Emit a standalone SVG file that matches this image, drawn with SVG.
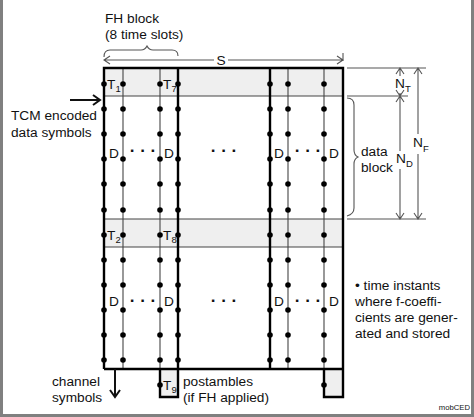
<svg xmlns="http://www.w3.org/2000/svg" xmlns:xlink="http://www.w3.org/1999/xlink" width="474" height="417" viewBox="0 0 474 417">
<style>
text{font-family:"Liberation Sans",Arial,sans-serif;fill:#111;font-size:13.7px}
.sub{font-size:9.5px}
.thick{stroke:#000;stroke-width:2.4;fill:none}
.thin{stroke:#444;stroke-width:1.1;fill:none}
.dim{stroke:#555;stroke-width:1.1;fill:none}
.arr{stroke:#111;stroke-width:2;fill:none}
.band{fill:#efefef}
.ell{font-weight:bold;font-size:17px}
</style>
<defs>
<circle id="d" r="2.8" fill="#000"/>
</defs>
<rect width="474" height="417" fill="#fff"/>
<path d="M1.5,0 V415.5 H472.5 V0" fill="none" stroke="#808080" stroke-width="3"/>

<g id="frame">
<rect class="band" x="104" y="68" width="239" height="28"/>
<rect class="band" x="104" y="219" width="239" height="28"/>
<rect class="band" x="160" y="369" width="18" height="28"/>
<rect class="band" x="324" y="369" width="19" height="28"/>
<line class="thin" x1="104" y1="96" x2="343" y2="96"/>
<line class="thin" x1="104" y1="219" x2="343" y2="219"/>
<line class="thin" x1="104" y1="247" x2="343" y2="247"/>
<line class="thin" x1="123" y1="68" x2="123" y2="369"/>
<line class="thin" x1="160" y1="68" x2="160" y2="369"/>
<line class="thin" x1="288" y1="68" x2="288" y2="369"/>
<line class="thin" x1="324" y1="68" x2="324" y2="369"/>
<line class="thick" x1="178" y1="68" x2="178" y2="369"/>
<line class="thick" x1="270" y1="68" x2="270" y2="369"/>
<path class="thick" d="M104,369 V68 H343 V397 H324 V369 M104,369 H343 M160,369 V397 H178 V369"/>
</g>

<g id="dots">
<use xlink:href="#d" x="104" y="84"/><use xlink:href="#d" x="123" y="84"/><use xlink:href="#d" x="160" y="84"/><use xlink:href="#d" x="178" y="84"/><use xlink:href="#d" x="270" y="84"/><use xlink:href="#d" x="288" y="84"/><use xlink:href="#d" x="324" y="84"/>
<use xlink:href="#d" x="104" y="109"/><use xlink:href="#d" x="123" y="109"/><use xlink:href="#d" x="160" y="109"/><use xlink:href="#d" x="178" y="109"/><use xlink:href="#d" x="270" y="109"/><use xlink:href="#d" x="288" y="109"/><use xlink:href="#d" x="324" y="109"/>
<use xlink:href="#d" x="104" y="134"/><use xlink:href="#d" x="123" y="134"/><use xlink:href="#d" x="160" y="134"/><use xlink:href="#d" x="178" y="134"/><use xlink:href="#d" x="270" y="134"/><use xlink:href="#d" x="288" y="134"/><use xlink:href="#d" x="324" y="134"/>
<use xlink:href="#d" x="104" y="159"/><use xlink:href="#d" x="123" y="159"/><use xlink:href="#d" x="160" y="159"/><use xlink:href="#d" x="178" y="159"/><use xlink:href="#d" x="270" y="159"/><use xlink:href="#d" x="288" y="159"/><use xlink:href="#d" x="324" y="159"/>
<use xlink:href="#d" x="104" y="184"/><use xlink:href="#d" x="123" y="184"/><use xlink:href="#d" x="160" y="184"/><use xlink:href="#d" x="178" y="184"/><use xlink:href="#d" x="270" y="184"/><use xlink:href="#d" x="288" y="184"/><use xlink:href="#d" x="324" y="184"/>
<use xlink:href="#d" x="104" y="210"/><use xlink:href="#d" x="123" y="210"/><use xlink:href="#d" x="160" y="210"/><use xlink:href="#d" x="178" y="210"/><use xlink:href="#d" x="270" y="210"/><use xlink:href="#d" x="288" y="210"/><use xlink:href="#d" x="324" y="210"/>
<use xlink:href="#d" x="104" y="235"/><use xlink:href="#d" x="123" y="235"/><use xlink:href="#d" x="160" y="235"/><use xlink:href="#d" x="178" y="235"/><use xlink:href="#d" x="270" y="235"/><use xlink:href="#d" x="288" y="235"/><use xlink:href="#d" x="324" y="235"/>
<use xlink:href="#d" x="104" y="260"/><use xlink:href="#d" x="123" y="260"/><use xlink:href="#d" x="160" y="260"/><use xlink:href="#d" x="178" y="260"/><use xlink:href="#d" x="270" y="260"/><use xlink:href="#d" x="288" y="260"/><use xlink:href="#d" x="324" y="260"/>
<use xlink:href="#d" x="104" y="285"/><use xlink:href="#d" x="123" y="285"/><use xlink:href="#d" x="160" y="285"/><use xlink:href="#d" x="178" y="285"/><use xlink:href="#d" x="270" y="285"/><use xlink:href="#d" x="288" y="285"/><use xlink:href="#d" x="324" y="285"/>
<use xlink:href="#d" x="104" y="310"/><use xlink:href="#d" x="123" y="310"/><use xlink:href="#d" x="160" y="310"/><use xlink:href="#d" x="178" y="310"/><use xlink:href="#d" x="270" y="310"/><use xlink:href="#d" x="288" y="310"/><use xlink:href="#d" x="324" y="310"/>
<use xlink:href="#d" x="104" y="335"/><use xlink:href="#d" x="123" y="335"/><use xlink:href="#d" x="160" y="335"/><use xlink:href="#d" x="178" y="335"/><use xlink:href="#d" x="270" y="335"/><use xlink:href="#d" x="288" y="335"/><use xlink:href="#d" x="324" y="335"/>
<use xlink:href="#d" x="104" y="360"/><use xlink:href="#d" x="123" y="360"/><use xlink:href="#d" x="160" y="360"/><use xlink:href="#d" x="178" y="360"/><use xlink:href="#d" x="270" y="360"/><use xlink:href="#d" x="288" y="360"/><use xlink:href="#d" x="324" y="360"/>
<use xlink:href="#d" x="160" y="385"/><use xlink:href="#d" x="324" y="385"/>
</g>

<g id="slot-labels">
<text x="107" y="89">T<tspan class="sub" dy="3">1</tspan></text>
<text x="163" y="89">T<tspan class="sub" dy="3">7</tspan></text>
<text x="107" y="240">T<tspan class="sub" dy="3">2</tspan></text>
<text x="163" y="240">T<tspan class="sub" dy="3">8</tspan></text>
<text x="163" y="390">T<tspan class="sub" dy="3">9</tspan></text>
<g text-anchor="middle">
<text x="114" y="158">D</text><text x="169" y="158">D</text><text x="279" y="158">D</text><text x="334" y="158">D</text>
<text x="114" y="306">D</text><text x="169" y="306">D</text><text x="279" y="306">D</text><text x="334" y="306">D</text>
<text class="ell" x="143" y="156">· · ·</text><text class="ell" x="224" y="156">· · ·</text><text class="ell" x="308" y="156">· · ·</text>
<text class="ell" x="143" y="306">· · ·</text><text class="ell" x="224" y="306">· · ·</text><text class="ell" x="308" y="306">· · ·</text>
</g>
</g>

<g id="fh-block">
<text x="105" y="23">FH block</text>
<text x="105" y="39">(8 time slots)</text>
<path class="dim" d="M104,57 Q104,50 110,50 H141 Q145,50 147,46 Q149,50 153,50 H172 Q178,50 178,56"/>
</g>

<g id="labels">
<text x="11" y="120">TCM encoded</text>
<text x="11" y="137">data symbols</text>
<text x="52" y="386">channel</text>
<text x="52" y="402">symbols</text>
<text x="183" y="386">postambles</text>
<text x="183" y="402">(if FH applied)</text>
<text x="361" y="156">data</text>
<text x="361" y="172">block</text>
<text x="355" y="290">• time instants</text>
<text x="355" y="306">where f-coeffi-</text>
<text x="355" y="322">cients are gener-</text>
<text x="355" y="338">ated and stored</text>
<text x="470" y="410" text-anchor="end" style="font-size:7.7px">mobCED</text>
<text x="221" y="65" text-anchor="middle">S</text>
<text x="395" y="88">N<tspan class="sub" dy="4">T</tspan></text>
<text x="396" y="163">N<tspan class="sub" dy="4">D</tspan></text>
<text x="413" y="147">N<tspan class="sub" dy="5">F</tspan></text>
</g>

<g id="connectors">
<path class="arr" d="M70,100 H100 M93,95 L100,100 L93,105"/>
<path class="arr" d="M115,369 V397 M110,390 L115,397 L120,390"/>
<path class="dim" d="M104,60 H214 M228,60 H343 M110,56 L104,60 L110,64 M337,56 L343,60 L337,64 M343,53 V61"/>
<path class="dim" d="M347,68 H426 M347,96 H408 M347,219 H426"/>
<path class="dim" d="M400,68 V76 M400,93 V151 M400,169 V219 M396,74 L400,68 L404,74 M396,90 L400,96 L404,90 M396,102 L400,96 L404,102 M396,213 L400,219 L404,213"/>
<path class="dim" d="M418,68 V134 M418,154 V219 M414,74 L418,68 L422,74 M414,213 L418,219 L422,213"/>
<path class="dim" d="M347,98 Q354,98 354,105 V150 Q354,155 358,157 Q354,159 354,164 V208 Q354,214 347,216"/>
</g>
</svg>
